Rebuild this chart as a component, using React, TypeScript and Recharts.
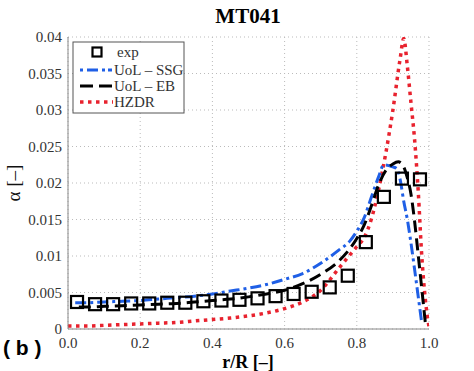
import React from "react";
import {
  CartesianGrid,
  ComposedChart,
  Line,
  Scatter,
  XAxis,
  YAxis,
} from "recharts";

const xTicks = [0, 0.2, 0.4, 0.6, 0.8, 1.0];
const yTicks = [0, 0.005, 0.01, 0.015, 0.02, 0.025, 0.03, 0.035, 0.04];

// experiment (squares)
const expR = [
  0.025, 0.075, 0.125, 0.175, 0.225, 0.275, 0.325, 0.375, 0.425, 0.475, 0.525, 0.575,
  0.625, 0.675, 0.725, 0.775, 0.825, 0.875, 0.925, 0.975,
];
const expAlpha = [
  0.0037, 0.0034, 0.0034, 0.0035, 0.0035, 0.0036, 0.0036, 0.0038, 0.0039, 0.004, 0.0042,
  0.0045, 0.0048, 0.0051, 0.0057, 0.0073, 0.0119, 0.0181, 0.0206, 0.0205,
];

// UoL - SSG
const ssgR = [
  0.02, 0.05, 0.1, 0.15, 0.2, 0.25, 0.3, 0.35, 0.4, 0.45, 0.5, 0.55, 0.6, 0.65, 0.7, 0.75,
  0.78, 0.8, 0.82, 0.84, 0.86, 0.875, 0.9, 0.91, 0.92, 0.93, 0.94, 0.95, 0.96, 0.97, 0.98,
];
const ssgAlpha = [
  0.0036, 0.0036, 0.0037, 0.0038, 0.0039, 0.0041, 0.0043, 0.0045, 0.0048, 0.0052, 0.0056,
  0.0061, 0.0068, 0.0076, 0.009, 0.0108, 0.012, 0.0134, 0.0152, 0.018, 0.0208, 0.0225,
  0.0222, 0.022, 0.0205, 0.0175, 0.015, 0.0118, 0.0082, 0.0045, 0.0008,
];

// UoL - EB
const ebR = [
  0.03, 0.05, 0.1, 0.15, 0.2, 0.25, 0.3, 0.35, 0.4, 0.45, 0.5, 0.55, 0.6, 0.65, 0.7, 0.75,
  0.8, 0.82, 0.84, 0.86, 0.88, 0.9, 0.915, 0.93, 0.94, 0.95, 0.96, 0.97, 0.98, 0.99,
];
const ebAlpha = [
  0.003, 0.003, 0.0031, 0.0032, 0.0033, 0.0034, 0.0035, 0.0037, 0.0039, 0.0041, 0.0044,
  0.0048, 0.0053, 0.0062, 0.0075, 0.0093, 0.0124, 0.0142, 0.0168, 0.0197, 0.0217, 0.0226,
  0.0229, 0.0222, 0.0207, 0.0185, 0.0148, 0.0102, 0.0055, 0.0008,
];

// HZDR
const hzdrR = [
  0, 0.05, 0.1, 0.15, 0.2, 0.25, 0.3, 0.35, 0.4, 0.45, 0.5, 0.55, 0.6, 0.65, 0.7, 0.75, 0.8,
  0.82, 0.84, 0.86, 0.88, 0.9, 0.92, 0.93, 0.94, 0.95, 0.96, 0.97, 0.98, 0.99, 1.0,
];
const hzdrAlpha = [
  0.0004, 0.0004, 0.0005, 0.0006, 0.0007, 0.0008, 0.0009, 0.0011, 0.0013, 0.0015, 0.0018,
  0.0022, 0.0028, 0.0037, 0.0053, 0.0083, 0.0113, 0.0125, 0.015, 0.019, 0.024, 0.03, 0.037,
  0.0398, 0.036, 0.031, 0.026, 0.019, 0.01, 0.004, 0.0003,
];

const zip = (r: number[], a: number[]) => r.map((x, i) => ({ r: x, a: a[i] }));

const expData = zip(expR, expAlpha);
const ssgData = zip(ssgR, ssgAlpha);
const ebData = zip(ebR, ebAlpha);
const hzdrData = zip(hzdrR, hzdrAlpha);

const BLUE = "#1f5fe6";
const RED = "#e8222e";
const serif = "Liberation Serif, serif";

const SquareMark = (props: any) => {
  const { cx, cy } = props;
  if (cx == null || cy == null) return null;
  return (
    <rect x={cx - 6} y={cy - 6} width={12} height={12} fill="none" stroke="#000" strokeWidth={2.2} />
  );
};

const tickStyle = { fontFamily: serif, fontSize: 15, fill: "#333", style: { fontFamily: serif } };

export default function App() {
  return (
    <div
      style={{
        position: "absolute",
        left: 0,
        top: 0,
        width: 474,
        height: 371,
        background: "#fff",
        fontFamily: serif,
      }}
    >
      <ComposedChart
        width={474}
        height={371}
        margin={{ top: 37, right: 45, bottom: 12, left: 8 }}
        style={{ fontFamily: serif }}
      >
        <CartesianGrid stroke="#bbb" strokeDasharray="1 3" />
        <XAxis
          type="number"
          dataKey="r"
          domain={[0, 1]}
          ticks={xTicks}
          tickFormatter={(v) => Number(v).toFixed(1)}
          height={30}
          tick={tickStyle}
          tickLine={false}
          axisLine={{ stroke: "#888" }}
          allowDataOverflow
        />
        <XAxis
          xAxisId="top"
          orientation="top"
          type="number"
          domain={[0, 1]}
          height={0}
          tick={false}
          tickLine={false}
          axisLine={{ stroke: "#888" }}
        />
        <YAxis
          type="number"
          domain={[0, 0.04]}
          ticks={yTicks}
          width={60}
          tick={tickStyle}
          tickLine={false}
          tickSize={4}
          axisLine={{ stroke: "#888" }}
          allowDataOverflow
        />
        <YAxis
          yAxisId="right"
          orientation="right"
          type="number"
          domain={[0, 0.04]}
          width={0}
          tick={false}
          tickLine={false}
          axisLine={{ stroke: "#888" }}
        />
        <Line
          data={hzdrData}
          dataKey="a"
          stroke={RED}
          strokeWidth={3.5}
          strokeDasharray="3.5 4.5"
          dot={false}
          type="monotone"
          isAnimationActive={false}
        />
        <Line
          data={ssgData}
          dataKey="a"
          stroke={BLUE}
          strokeWidth={3}
          strokeDasharray="11 4 3 4"
          dot={false}
          type="monotone"
          isAnimationActive={false}
        />
        <Line
          data={ebData}
          dataKey="a"
          stroke="#000"
          strokeWidth={3}
          strokeDasharray="12 6"
          dot={false}
          type="monotone"
          isAnimationActive={false}
        />
        <Scatter data={expData} dataKey="a" shape={SquareMark} isAnimationActive={false} />
      </ComposedChart>

      <svg
        width={474}
        height={371}
        style={{ position: "absolute", left: 0, top: 0, pointerEvents: "none", fontFamily: serif }}
      >
        <text x={248} y={23} textAnchor="middle" fontWeight="bold" fontSize={21} fill="#000">
          MT041
        </text>
        <text
          x={20}
          y={183}
          textAnchor="middle"
          fontSize={19}
          fill="#111"
          transform="rotate(-90 20 183)"
        >
          α [–]
        </text>
        <text x={248} y={368} textAnchor="middle" fontWeight="bold" fontSize={18} fill="#000">
          r/R [–]
        </text>
        <text
          x={3}
          y={355}
          fontWeight="bold"
          fontSize={21}
          fill="#000"
          style={{ fontFamily: "Liberation Sans, Arial, sans-serif" }}
        >
          ( b )
        </text>

        {/* legend */}
        <rect x={73} y={42} width={111} height={71} fill="#fff" stroke="#555" strokeWidth={1} />
        <rect x={92.5} y={47.5} width={9} height={9} fill="none" stroke="#000" strokeWidth={2.2} />
        <line x1={80} x2={113} y1={70} y2={70} stroke={BLUE} strokeWidth={3} strokeDasharray="3 4 11 4 3" />
        <line x1={80} x2={113} y1={86} y2={86} stroke="#000" strokeWidth={3} strokeDasharray="13 6" />
        <line x1={80} x2={113} y1={102} y2={102} stroke={RED} strokeWidth={3.5} strokeDasharray="3.5 4.5" />
        <g fontSize={15} fill="#333">
          <text x={117} y={57}>exp</text>
          <text x={114} y={75}>UoL – SSG</text>
          <text x={114} y={91}>UoL – EB</text>
          <text x={114} y={107}>HZDR</text>
        </g>
      </svg>
    </div>
  );
}
